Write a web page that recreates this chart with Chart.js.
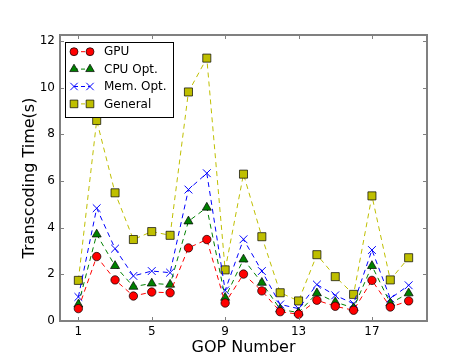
<!DOCTYPE html>
<html><head><meta charset="utf-8">
<script src="https://cdn.jsdelivr.net/npm/chart.js@4.4.0/dist/chart.umd.min.js"></script>
<style>html,body{margin:0;padding:0;background:#fff}#wrap{width:474px;height:357px}</style>
</head><body><div id="wrap"><canvas id="c" width="474" height="357"></canvas></div>
<script>
const gop = [1,2,3,4,5,6,7,8,9,10,11,12,13,14,15,16,17,18,19];
const gpu = [0.53,2.76,1.76,1.07,1.24,1.21,3.13,3.49,0.77,2.01,1.29,0.40,0.29,0.89,0.63,0.46,1.74,0.60,0.86];
const cpuOpt = [0.71,3.71,2.36,1.47,1.61,1.56,4.27,4.86,1.00,2.64,1.64,0.50,0.36,1.19,0.81,0.56,2.36,0.76,1.19];
const memOpt = [1.03,4.83,3.10,1.93,2.14,2.07,5.63,6.33,1.31,3.50,2.14,0.71,0.53,1.56,1.10,0.74,3.04,0.96,1.53];
const general = [1.74,8.59,5.49,3.49,3.83,3.67,9.81,11.26,2.19,6.29,3.61,1.21,0.86,2.84,1.90,1.14,5.36,1.76,2.71];
const xTicks = [1,5,9,13,17];
const yTicks = [0,2,4,6,8,10,12];
const seriesNames = ['GPU','CPU Opt.','Mem. Opt.','General'];

const FONT = 'DejaVu Sans';
const pts = arr => gop.map((g,i)=>({x:g,y:arr[i]}));
const styles = [
  {color:'#ff0000', pointStyle:'circle', radius:4.2, fill:'#ff0000', border:'#000', bw:0.7},
  {color:'#008000', pointStyle:'triangle', radius:5.2, fill:'#008000', border:'#000', bw:0.7},
  {color:'#0000ff', pointStyle:'crossRot', radius:5.5, fill:'#0000ff', border:'#0000ff', bw:1},
  {color:'#bfbf00', pointStyle:'rect', radius:5.7, fill:'#bfbf00', border:'#000', bw:0.7}
];
const dataArrays = [gpu, cpuOpt, memOpt, general];

const frame = {
  id:'frame',
  afterDatasetsDraw(chart){
    const {ctx, chartArea:a, scales:{x,y}} = chart;
    ctx.save();
    ctx.strokeStyle = '#808080';
    ctx.lineWidth = 1;
    const tl = 4;
    xTicks.forEach(v=>{const px=Math.round(x.getPixelForValue(v))+0.5;
      ctx.beginPath();ctx.moveTo(px,a.bottom);ctx.lineTo(px,a.bottom-tl);ctx.moveTo(px,a.top);ctx.lineTo(px,a.top+tl);ctx.stroke();});
    yTicks.forEach(v=>{const py=Math.round(y.getPixelForValue(v))+0.5;
      ctx.beginPath();ctx.moveTo(a.left,py);ctx.lineTo(a.left+tl,py);ctx.moveTo(a.right,py);ctx.lineTo(a.right-tl,py);ctx.stroke();});
    ctx.lineWidth = 2;
    ctx.strokeRect(a.left, a.top, a.right-a.left, a.bottom-a.top);
    // legend
    const lx=65, ly=42, lw=108, lh=75;
    ctx.fillStyle='#fff';ctx.fillRect(lx,ly,lw,lh);
    ctx.lineWidth=1;ctx.strokeStyle='#000';ctx.strokeRect(lx+0.5,ly+0.5,lw,lh);
    ctx.font = '12px "'+FONT+'"';
    ctx.textBaseline='middle';ctx.textAlign='left';
    seriesNames.forEach((n,i)=>{
      const s = styles[i], cy = 51.7 + i*17.4;
      ctx.setLineDash([4,3]);ctx.strokeStyle=s.color;ctx.lineWidth=1;
      ctx.beginPath();ctx.moveTo(74,cy);ctx.lineTo(90,cy);ctx.stroke();
      ctx.setLineDash([]);
      [74,90].forEach(mx=>{
        ctx.fillStyle=s.fill;ctx.strokeStyle=s.border;ctx.lineWidth=s.bw;
        Chart.helpers.drawPoint(ctx,{pointStyle:s.pointStyle,radius:s.radius*0.95,borderWidth:s.bw,rotation:0},mx,cy);
      });
      ctx.fillStyle='#000';
      ctx.fillText(n,104,cy+0.5);
    });
    ctx.restore();
  }
};

new Chart(document.getElementById('c'),{
  type:'line',
  data:{datasets: dataArrays.map((arr,i)=>({
    label: seriesNames[i], data: pts(arr),
    borderColor: styles[i].color, borderWidth:1, borderDash:[5,4],
    pointStyle: styles[i].pointStyle, pointRadius: styles[i].radius,
    pointBackgroundColor: styles[i].fill, pointBorderColor: styles[i].border,
    pointBorderWidth: styles[i].bw, fill:false, tension:0
  }))},
  options:{
    responsive:false, animation:false, devicePixelRatio:1,
    layout:{padding:{left:0,right:47,top:35,bottom:0}},
    plugins:{legend:{display:false}, tooltip:{enabled:false}},
    scales:{
      x:{type:'linear', min:0, max:20,
        afterFit(s){s.height=36;},
        afterBuildTicks(s){s.ticks = xTicks.map(v=>({value:v}));},
        grid:{display:false, drawTicks:false}, border:{display:false},
        ticks:{color:'#000', font:{family:FONT,size:12}, padding:4, autoSkip:false, maxRotation:0},
        title:{display:true, text:'GOP Number', color:'#000', font:{family:FONT,size:16}, padding:{top:0,bottom:0}}
      },
      y:{type:'linear', min:0, max:12.25,
        afterFit(s){s.width=60;},
        afterBuildTicks(s){s.ticks = yTicks.map(v=>({value:v}));},
        grid:{display:false, drawTicks:false}, border:{display:false},
        ticks:{color:'#000', font:{family:FONT,size:12}, padding:5},
        title:{display:true, text:'Transcoding Time(s)', color:'#000', font:{family:FONT,size:16}, padding:{top:20,bottom:0}}
      }
    }
  },
  plugins:[frame]
});
</script></body></html>
